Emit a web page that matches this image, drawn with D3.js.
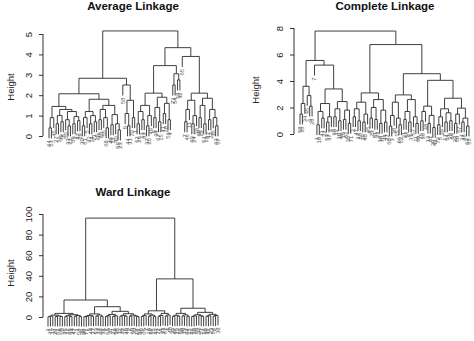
<!DOCTYPE html>
<html><head><meta charset="utf-8">
<script src="https://cdn.jsdelivr.net/npm/d3@7"></script>
<style>body{margin:0;background:#fff}svg{display:block}</style>
</head><body>
<script>
// Trees: [mergeHeight, left, right]; leaves are observation positions (1..72 in plotted order)
const avgTree = [5.15,
  [2.83,
    [2.07,
      [1.45, [0.9, [0.4, 1, 2], 3], [1.3, [1.0, [0.6, 4, 5], [0.7, 6, 7]], [1.2, [0.8, 8, [0.5, 9, 10]], [0.95, [0.6, 11, 12], [0.75, 13, 14]]]]],
      [1.8, [1.2, [0.9, [0.5, 15, 16], 17], [1.0, [0.6, 18, 19], [0.7, 20, 21]]], [1.5, [1.3, [0.8, 22, 23], [0.9, 24, [0.4, 25, 26]]], [1.05, [0.55, 27, 28], [0.6, 29, [0.3, 30, 31]]]]]],
    [2.5, 32, [1.75, [1.1, 33, [0.5, 34, 35]], [0.9, 36, 37]]]],
  [4.33,
    [3.45,
      [2.1, [1.5, [1.2, [0.6, 38, 39], [0.8, 40, 41]], [1.0, [0.5, 42, 43], 44]], [1.9, [1.4, [0.9, 45, 46], [0.7, 47, 48]], [1.6, [1.1, 49, 50], [0.8, 51, 52]]]],
      [3.05, [2.5, 53, 54], [2.75, 55, 56]]],
    [3.9, 57,
      [2.1, [1.75, [1.3, [0.7, 58, 59], 60], [1.0, [0.6, 61, 62], 63]], [1.85, [1.5, [0.9, 64, 65], [0.6, 66, 67]], [1.3, [0.8, 68, 69], [0.9, 70, [0.5, 71, 72]]]]]]]];

const cplTree = [7.77,
  [5.55,
    [3.6, [2.3, [1.5, 1, 2], 3], [2.9, 4, [2.1, 5, 6]]],
    [5.2, 7,
      [3.4, [2.3, [1.7, [0.7, 8, 9], [1.2, 10, 11]], [1.3, [0.9, 12, 13], 14]], [2.45, [1.9, [1.3, 15, 16], [1.0, 17, 18]], [1.8, [1.1, 19, 20], [0.8, 21, 22]]]]]],
  [6.75,
    [3.1, [2.4, [1.9, [1.3, 23, 24], [1.0, 25, 26]], [1.5, [0.9, 27, 28], 29]], [2.6, [2.0, [1.2, 30, 31], [1.1, 32, 33]], [1.8, [0.8, 34, 35], [0.9, 36, 37]]]],
    [4.55,
      [2.95, [2.4, [1.4, [0.6, 38, 39], 40], [1.2, 41, [0.7, 42, 43]]], [2.6, [1.7, [1.1, 44, 45], [0.9, 46, 47]], [1.3, 48, [0.8, 49, 50]]]],
      [4.05,
        [2.1, [1.7, [1.0, 51, 52], 53], [1.4, [0.8, 54, 55], [0.5, 56, 57]]],
        [2.7, [1.9, [1.3, [0.7, 58, 59], 60], [1.6, [0.9, 61, 62], [1.0, 63, 64]]], [1.95, [1.5, [0.8, 65, 66], 67], [1.2, [0.9, 68, 69], [0.6, 70, 71]]]]]]]];

const wardTree = [96,
  [16.5,
    [3.5, [1.8, [0.8, [0.3, 1, 2], 3], [1.0, [0.4, 4, 5], [0.5, 6, 7]]], [2.2, [1.2, [0.5, 8, 9], [0.6, 10, 11]], [1.4, [0.7, 12, 13], [0.4, 14, 15]]]],
    [10, [3.0, [1.5, [0.7, [0.3, 16, 17], 18], [0.8, 19, 20]], [1.9, [0.9, 21, 22], [0.6, 23, 24]]],
         [5.5, [2.5, [1.2, [0.5, 25, 26], 27], [1.1, [0.6, 28, 29], 30]], [3.2, [1.6, [0.7, 31, 32], [0.9, 33, 34]], [1.8, [0.8, 35, 36], [1.0, 37, [0.4, 38, 39]]]]]]],
  [37,
    [6, [3.0, [1.4, [0.6, 40, 41], 42], [1.7, [0.8, 43, 44], [0.5, 45, 46]]], [3.5, [1.5, [0.7, 47, 48], 49], [1.9, [0.9, 50, 51], 52]]],
    [8.5, [3.5, [1.6, [0.7, 53, 54], [0.9, 55, 56]], [2.0, [1.0, 57, 58], [0.6, 59, 60]]],
          [4.5, [2.2, [1.1, [0.5, 61, 62], 63], [1.3, 64, [0.6, 65, 66]]], [2.6, [1.2, [0.7, 67, 68], 69], [1.5, [0.8, 70, 71], 72]]]]]];

const avgLabels = [64,53,45,27,12,39,8,50,33,21,66,2,47,19,30,61,5,42,14,71,25,36,10,55,68,3,48,17,40,59,23,58,9,44,31,70,1,52,26,13,63,37,20,49,6,34,67,15,41,28,56,4,72,54,18,32,65,7,46,11,60,24,38,69,29,51,16,43,22,35,62,57];
const cplLabels = [58,16,34,45,9,26,7,1,10,41,22,53,37,4,68,12,30,49,19,62,35,71,2,47,14,56,29,40,65,8,23,51,33,18,70,44,27,60,3,38,15,66,52,21,42,6,31,57,11,69,25,36,48,13,61,20,43,72,5,39,17,54,28,64,32,50,67,24,46,63,55,59];
const wardLabels = [3,41,17,29,62,8,50,35,12,66,24,47,1,58,39,20,71,6,44,27,53,14,68,31,9,56,37,22,63,45,11,70,26,49,2,60,33,18,52,40,65,7,28,57,15,43,72,34,21,61,4,48,30,67,13,55,38,19,64,25,46,10,69,36,51,16,59,42,23,54,5,32];

const avgTicks = [0, 1, 2, 3, 4, 5];
const cplTicks = [0, 2, 4, 6, 8];
const wardTicks = [0, 20, 40, 60, 80, 100];
const titles = ["Average Linkage", "Complete Linkage", "Ward Linkage"];

const FONT = "'Liberation Sans', Arial, Helvetica, sans-serif";
const svg = d3.select("body").append("svg").attr("width", 474).attr("height", 341)
  .style("font-family", FONT);

function panel(tree, labels, ticks, title, cfg) {
  const g = svg.append("g");
  const leaves = [];
  function walk(n) {
    if (typeof n === "number") { const o = {leaf: true, idx: leaves.length}; leaves.push(o); return o; }
    return {leaf: false, h: n[0], l: walk(n[1]), r: walk(n[2])};
  }
  const root = walk(tree);
  const x = d3.scaleLinear().domain([0, leaves.length - 1]).range([cfg.x0, cfg.x1]);
  const y = d3.scaleLinear().domain([0, ticks[ticks.length - 1]]).range([cfg.y0, cfg.yTop]);
  const hang = 0.1 * root.h;
  function setX(n) { if (n.leaf) n.x = x(n.idx); else { setX(n.l); setX(n.r); n.x = (n.l.x + n.r.x) / 2; } }
  setX(root);
  const segs = [];
  function draw(n) {
    if (n.leaf) return;
    const lt = n.l.leaf ? n.h - hang : n.l.h;
    const rt = n.r.leaf ? n.h - hang : n.r.h;
    if (n.l.leaf) n.l.bottom = lt;
    if (n.r.leaf) n.r.bottom = rt;
    segs.push(`M${n.l.x},${y(lt)}V${y(n.h)}H${n.r.x}V${y(rt)}`);
    draw(n.l); draw(n.r);
  }
  draw(root);
  g.append("path").attr("d", segs.join("")).attr("fill", "none")
    .attr("stroke", "#2a2a2a").attr("stroke-width", 0.9);
  g.selectAll("text.lab").data(leaves).join("text").attr("class", "lab")
    .attr("transform", d => `translate(${d.x + 2},${y(d.bottom) + 2}) rotate(-90)`)
    .attr("text-anchor", "end").attr("font-size", 5.8).attr("fill", "#555")
    .text(d => labels[d.idx]);
  // axis
  const ax = g.append("g").attr("transform", `translate(${cfg.ax},0)`)
    .call(d3.axisLeft(y).tickValues(ticks).tickSize(4).tickFormat(d3.format("d")));
  ax.select(".domain").remove();
  ax.append("line").attr("x1", 0).attr("x2", 0).attr("y1", y(ticks[0])).attr("y2", y(ticks[ticks.length - 1]))
    .attr("stroke", "#333");
  ax.selectAll(".tick line").attr("stroke", "#333");
  ax.selectAll(".tick text").attr("x", 0).attr("y", -11).attr("dy", 0)
    .attr("transform", "rotate(-90)").attr("text-anchor", "middle")
    .attr("font-size", 9.5).attr("fill", "#222").attr("font-family", FONT);
  g.append("text").attr("transform", `translate(${cfg.hx},${cfg.hy}) rotate(-90)`)
    .attr("text-anchor", "middle").attr("font-size", 9.5).attr("fill", "#222").text("Height");
  g.append("text").attr("x", cfg.tx).attr("y", cfg.ty).attr("text-anchor", "middle")
    .attr("font-size", 11.5).attr("font-weight", "bold").attr("fill", "#111").text(title);
}

panel(avgTree, avgLabels, avgTicks, titles[0],
  {x0: 49, x1: 218, y0: 136, yTop: 34, ax: 43, hx: 14, hy: 87, tx: 133, ty: 10});
panel(cplTree, cplLabels, cplTicks, titles[1],
  {x0: 300, x1: 469, y0: 134, yTop: 28, ax: 294, hx: 259, hy: 90, tx: 385, ty: 10});
panel(wardTree, wardLabels, wardTicks, titles[2],
  {x0: 48, x1: 218, y0: 317, yTop: 214, ax: 43, hx: 14, hy: 273, tx: 133, ty: 196});
</script>
</body></html>
